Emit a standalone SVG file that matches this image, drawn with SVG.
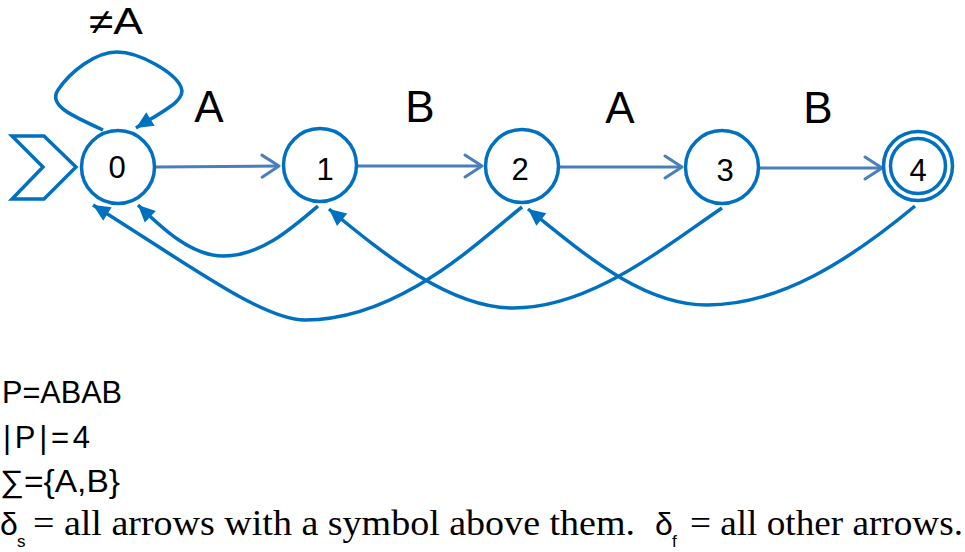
<svg xmlns="http://www.w3.org/2000/svg" width="965" height="552" viewBox="0 0 965 552">
<style>
.node{fill:#fff;stroke:#0070c0;stroke-width:3.5}
.lbl{font-family:"Liberation Sans",Arial,sans-serif;fill:#000}
.num{font-family:"Liberation Sans",Arial,sans-serif;font-size:31px;text-anchor:middle;fill:#000}
.fwd{fill:none;stroke:#4a7ebb;stroke-width:3;marker-end:url(#open)}
.back{fill:none;stroke:#0070c0;stroke-width:3.5;marker-end:url(#solid)}
.serif{font-family:"Liberation Serif","Times New Roman",serif;font-size:35px;fill:#000}
.sans{font-family:"Liberation Sans",Arial,sans-serif;fill:#000}
</style>
<defs>
<marker id="open" markerUnits="userSpaceOnUse" markerWidth="20" markerHeight="24" refX="17" refY="11" orient="auto" overflow="visible">
<path d="M0,0 L17,11 L0,22" fill="none" stroke="#4a7ebb" stroke-width="3" stroke-linecap="round" stroke-linejoin="round"/>
</marker>
<marker id="solid" markerUnits="userSpaceOnUse" markerWidth="18" markerHeight="18" refX="17" refY="8" orient="auto" overflow="visible">
<path d="M0,0 L17,8 L0,16 z" fill="#0070c0"/>
</marker>
</defs>

<g id="start">
<path d="M12,136 L44,136 L76,167 L44,199 L12,199 L43,167 z" fill="#fff" stroke="#0070c0" stroke-width="3.5" stroke-linejoin="miter"/>
</g>

<g id="connectors">
<path class="back" d="M103,130 C70,115 48,105 58,90 C70,72 95,52 117,52 C140,52 175,73 181,87 C187,100 165,110 136,128"/>
<path class="fwd" d="M156,167 L279,166"/>
<path class="fwd" d="M358,166 L482,166"/>
<path class="fwd" d="M560,167 L682,167"/>
<path class="fwd" d="M760,168 L882,168"/>
<path class="back" d="M318,206 C290,230 260,256 223,256 C190,256 160,226 138,205"/>
<path class="back" d="M522,207 C480,240 400,320 305,320 C262,320 185,262 93,205"/>
<path class="back" d="M722,208 C660,250 590,308 513,308 C450,308 385,255 329,209"/>
<path class="back" d="M915,206 C850,260 780,305 707,305 C640,305 580,250 528,209"/>
</g>

<g id="node0"><circle class="node" cx="118" cy="167" r="36.5"/><text class="num" x="117" y="178">0</text></g>
<g id="node1"><circle class="node" cx="320" cy="165" r="36.5"/><text class="num" x="325" y="180">1</text></g>
<g id="node2"><circle class="node" cx="522" cy="166" r="36.5"/><text class="num" x="520" y="180">2</text></g>
<g id="node3"><circle class="node" cx="722" cy="167" r="36.5"/><text class="num" x="725" y="181">3</text></g>
<g id="node4"><circle class="node" cx="918" cy="166" r="34.5"/><circle class="node" cx="918" cy="166" r="27.5"/><text class="num" x="918" y="181">4</text></g>

<g id="labels">
<text class="lbl" x="89" y="34" font-size="36" textLength="54" lengthAdjust="spacingAndGlyphs">≠A</text>
<text class="lbl" x="209" y="122" font-size="44" text-anchor="middle">A</text>
<text class="lbl" x="420" y="122" font-size="44" text-anchor="middle">B</text>
<text class="lbl" x="620" y="123" font-size="44" text-anchor="middle">A</text>
<text class="lbl" x="818" y="123" font-size="44" text-anchor="middle">B</text>
</g>

<g id="notes">
<text class="sans" x="2" y="403" font-size="31" textLength="120" lengthAdjust="spacingAndGlyphs">P=ABAB</text>
<text class="sans" x="3" y="448" font-size="31" textLength="87" lengthAdjust="spacing">|P|=4</text>
<text class="sans" x="0" y="492" font-size="31" textLength="120" lengthAdjust="spacingAndGlyphs">∑={A,B}</text>
<text class="sans" x="0" y="535" font-size="32">δ</text>
<text class="sans" x="17" y="547" font-size="17">s</text>
<text class="serif" x="33" y="535" textLength="602" lengthAdjust="spacingAndGlyphs">= all arrows with a symbol above them.</text>
<text class="sans" x="655" y="535" font-size="32">δ</text>
<text class="sans" x="672" y="547" font-size="17">f</text>
<text class="serif" x="690" y="535" textLength="273" lengthAdjust="spacingAndGlyphs">= all other arrows.</text>
</g>
</svg>
